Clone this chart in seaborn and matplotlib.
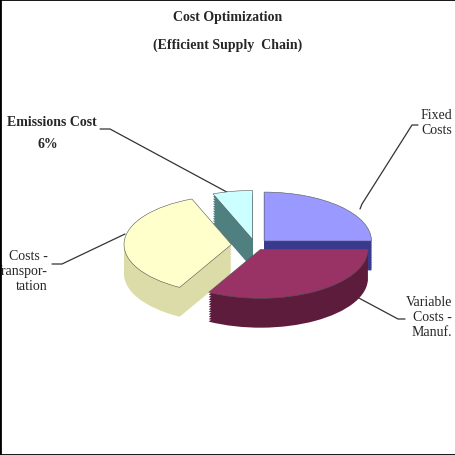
import matplotlib.pyplot as plt
import seaborn as sns

sns.set_style('white')
plt.rcParams['font.family'] = ['Liberation Serif', 'DejaVu Serif']

# cost shares, counter-clockwise from 90 degrees
labels = ['Emissions Cost', 'Transport', 'Variable Manufacturing', 'Fixed']
shares = [6, 36, 33, 25]
explode = [0.12, 0.22, 0.1, 0.12]
topColors = ['#ccffff', '#ffffcc', '#993366', '#9999ff']
sideColors = ['#4f7f7f', '#dcdca8', '#5e1c3c', '#3a3a8c']

fig = plt.figure(figsize=(4.56, 4.56), dpi=100)
ax = fig.add_axes([0, 0, 1, 1])
ax.set_xlim(0, 456)
ax.set_ylim(456, 0)
ax.axis('off')
fig.patches.append(plt.Rectangle((0, 0), 1, 1, transform=fig.transFigure,
                                 fill=False, edgecolor='black', linewidth=2))

ax.text(228, 18, 'Cost Optimization', ha='center', va='center', fontsize=10, fontweight='bold')
ax.text(228, 45, '(Efficient Supply  Chain)', ha='center', va='center', fontsize=10, fontweight='bold')

#flattened pie axes so the circle becomes an ellipse
pieAx = fig.add_axes([110 / 456, 1 - 300 / 456, 290 / 456, 115 / 456])
for depth in range(12, 0, -1):
    pieAx.pie(shares, explode=explode, colors=sideColors, startangle=90, counterclock=True,
              center=(0, -0.05 * depth), radius=1, wedgeprops={'linewidth': 0})
pieAx.pie(shares, explode=explode, colors=topColors, startangle=90, counterclock=True,
          center=(0, 0), radius=1, wedgeprops={'linewidth': 0.4, 'edgecolor': '#555555'})
pieAx.set_aspect('auto')
pieAx.set_xlim(-1.35, 1.35)
pieAx.set_ylim(-1.1, 1.25)
pieAx.axis('off')

# labels with leader lines
ax.text(97, 123, 'Emissions Cost', ha='right', va='center', fontsize=10, fontweight='bold')
ax.text(48, 145, '6%', ha='center', va='center', fontsize=10, fontweight='bold')
ax.plot([100, 110, 236], [130, 130, 198], color='#333333', lw=0.9)

ax.text(452, 123, 'Fixed\nCosts', ha='right', va='center', fontsize=10)
ax.plot([418, 412, 362, 360], [126, 126, 205, 210], color='#333333', lw=0.9)

ax.text(452, 318, 'Variable\nCosts -\nManuf.', ha='right', va='center', fontsize=10)
ax.plot([405, 398, 342], [320, 320, 290], color='#333333', lw=0.9)

ax.text(48, 272, 'Costs -\nTranspor-\ntation', ha='right', va='center', fontsize=10)
ax.plot([52, 62, 125], [265, 265, 235], color='#333333', lw=0.9)

fig.savefig('out.png', dpi=100)
